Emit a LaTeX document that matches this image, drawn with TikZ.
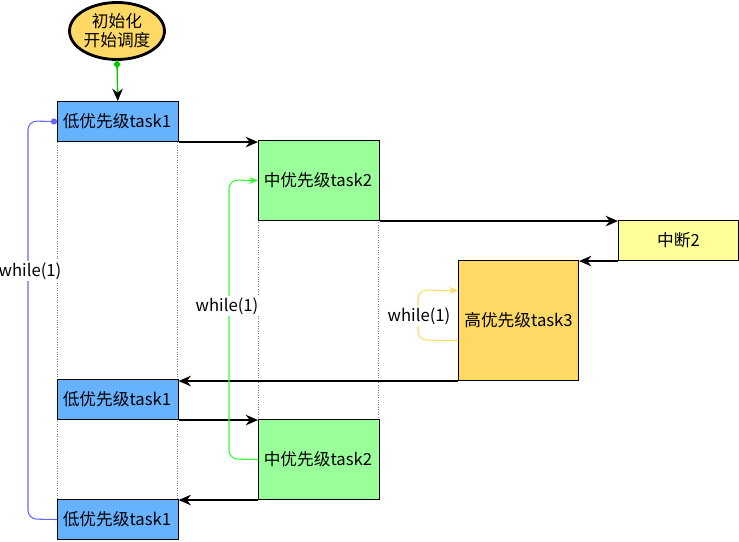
\documentclass[tikz,border=0pt]{standalone}
\usepackage{fontspec}
\setmainfont{Noto Sans CJK SC}
\usetikzlibrary{shapes.geometric, arrows.meta, calc}
\definecolor{lowc}{HTML}{66B2FF}
\definecolor{midc}{HTML}{99FF99}
\definecolor{highc}{HTML}{FFD966}
\definecolor{intc}{HTML}{FFFF99}
\tikzset{
  task/.style={draw=black, line width=0.6pt, minimum width=2.4cm, anchor=north west,
    inner ysep=0pt, inner xsep=3pt, font=\fontsize{9.5}{11}\selectfont},
  flow/.style={-{Stealth[length=7pt,width=6pt]}, line width=1pt, draw=black},
  guide/.style={densely dotted, draw=black!50, line width=0.4pt},
  loop/.style={rounded corners=5pt, line width=0.6pt},
  lbl/.style={fill=white, inner sep=1pt, font=\fontsize{9.5}{11}\selectfont}
}
\begin{document}
\begin{tikzpicture}[x=0.02cm, y=-0.02cm]
  \useasboundingbox (0,0) rectangle (739,541);
  % guides
  \foreach \x in {57,177} {
    \draw[guide] (\x,140) -- (\x,379);
    \draw[guide] (\x,419) -- (\x,499);
  }
  \foreach \x in {258,378} \draw[guide] (\x,220) -- (\x,419);

  \node[ellipse, draw=black, double=black, double distance=0.8pt, line width=0.4pt,
    fill=highc, minimum width=1.9cm, minimum height=1.14cm, inner sep=0pt, align=center,
    font=\fontsize{9.5}{11}\selectfont] (init) at (117,31) {初始化\\开始调度};

  \node[task, fill=lowc, minimum height=0.8cm, text width=2.2cm] (low1) at (57,101) {低优先级task1};
  \node[task, fill=midc, minimum height=1.6cm, text width=2.2cm] (mid1) at (258,140) {中优先级task2};
  \node[task, fill=intc, minimum height=0.8cm, align=center] (irq) at (618,220) {中断2};
  \node[task, fill=highc, minimum height=2.4cm, align=center] (high) at (458,260) {高优先级task3};
  \node[task, fill=lowc, minimum height=0.8cm, text width=2.2cm] (low2) at (57,379) {低优先级task1};
  \node[task, fill=midc, minimum height=1.6cm, text width=2.2cm] (mid2) at (258,419) {中优先级task2};
  \node[task, fill=lowc, minimum height=0.8cm, text width=2.2cm] (low3) at (57,499) {低优先级task1};

  \draw[{Diamond[fill=green!80!black,length=5pt,width=4pt]}-{Stealth[length=7pt,width=6pt,black]},
    draw=green!80!black, line width=0.8pt] (init.south) -- (low1.north);

  \draw[flow] (low1.south east) -- (low1.south east -| mid1.west);
  \draw[flow] (mid1.south east) -- (mid1.south east -| irq.west);
  \draw[flow] (irq.south west) -- (irq.south west -| high.east);
  \draw[flow] (high.south west) -- (high.south west -| low2.east);
  \draw[flow] (low2.south east) -- (low2.south east -| mid2.west);
  \draw[flow] (mid2.south west) -- (mid2.south west -| low3.east);

  \coordinate (b1) at (28,519);
  \coordinate (b2) at (28,121);
  \draw[loop, draw=blue!60, -{Circle[length=3.5pt]}] (low3.west) -- (b1) -- (b2) -- (low1.west);
  \node[lbl] (w1) at (30,271) {while(1)};

  \coordinate (g1) at (229,459);
  \coordinate (g2) at (229,180);
  \draw[loop, draw=green!80, -{Stealth[length=5pt,width=4pt]}] (mid2.west) -- (g1) -- (g2) -- (mid1.west);
  \node[lbl] (w2) at (227,306) {while(1)};

  \coordinate (y1) at (418,340);
  \coordinate (y2) at (418,290);
  \draw[loop, draw=highc, -{Stealth[length=5pt,width=4pt]}] ($(high.west)+(0,20)$) -- (y1) -- (y2) -- ($(high.west)+(0,-30)$);
  \node[lbl] (w3) at (419,316) {while(1)};
\end{tikzpicture}
\end{document}
